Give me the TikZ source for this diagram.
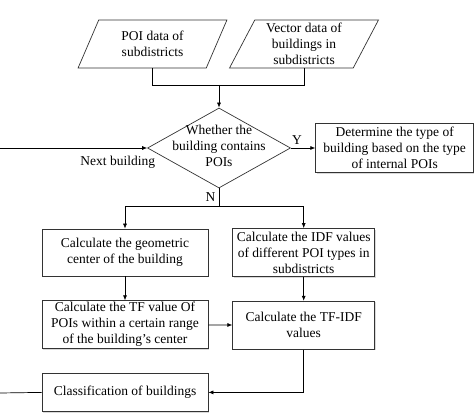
\documentclass[tikz,border=0pt]{standalone}
\usepackage{fontspec}
\setmainfont{Liberation Serif}
\usetikzlibrary{shapes.geometric,arrows.meta,positioning,shadows}
\newcommand{\flowfont}{\fontsize{13.5}{16}\selectfont}
\tikzset{
    process/.style={
        rectangle,
        draw=black!80,
        fill=white,
        align=center,
        inner sep=1pt,
        font=\flowfont,
        drop shadow={opacity=0.3, shadow xshift=1.2pt, shadow yshift=-1.2pt}
    },
    iodata/.style={
        trapezium,
        trapezium left angle=65,
        trapezium right angle=115,
        trapezium stretches=true,
        draw=black!80,
        fill=white,
        minimum width=149pt,
        minimum height=48pt,
        inner sep=0pt,
        align=center,
        font=\flowfont
    },
    decision/.style={
        diamond,
        draw=black!80,
        minimum width=143pt,
        minimum height=80pt,
        inner sep=0pt
    },
    flow/.style={
        ->,
        >={Latex[length=5pt,width=4pt]},
        line width=0.7pt
    }
}

\begin{document}
\begin{tikzpicture}[x=1pt, y=1pt, line width=0.7pt, node distance=24pt]
\useasboundingbox (0,0) rectangle (474,-419);

% input data
\node[iodata] (poi) at (152.5,-44) {POI data of\\subdistricts};
\node[iodata] (vector) at (304,-44) {Vector data of\\buildings in\\subdistricts};

% decision
\node[decision] (contains) at (219,-148) {};
\node[align=center, font=\flowfont, yshift=2pt] (containstext) at (contains.center) {Whether the\\building contains\\POIs};
\node[process, minimum width=158pt, minimum height=49pt, right=24.5pt of contains] (poitype) {Determine the type of\\building based on the type\\of internal POIs};

% N branch
\node[process, minimum width=166pt, minimum height=47pt] (center) at (125,-252.5) {Calculate the geometric\\center of the building};
\node[process, minimum width=142pt, minimum height=48pt, right=of center] (idf) {Calculate the IDF values\\of different POI types in\\subdistricts};
\node[process, minimum width=166pt, minimum height=48pt, below=of center] (tf) {Calculate the TF value Of\\POIs within a certain range\\of the building's center};
\node[process, minimum width=142pt, minimum height=48pt, below=of idf] (tfidf) {Calculate the TF-IDF\\values};
\node[process, minimum width=166pt, minimum height=38pt, below=of tf] (classify) {Classification of buildings};

% helper points
\coordinate (merge) at (219,-85);
\coordinate (split) at (219,-206);
\coordinate (nextin) at (0,-148);
\coordinate (loopout) at (0,-393);

% connectors
\draw (poi.south) |- (merge);
\draw (vector.south) |- (merge);
\draw[flow] (merge) -- (contains.north);
\draw[flow] (nextin) -- (contains.west) node[pos=0.8, below=4pt, font=\flowfont] {Next building};
\draw[flow] (contains.east) -- (poitype.west) node[pos=0.25, above, font=\flowfont] {Y};
\draw (contains.south) -- (split) node[midway, left, font=\flowfont] {N};
\draw[flow] (split) -| (center.north);
\draw[flow] (split) -| (idf.north);
\draw[flow] (center) -- (tf);
\draw[flow] (idf) -- (tfidf);
\draw[flow] (tf) -- (tfidf);
\draw[flow] (tfidf.south) |- (classify.east);
\draw (classify.west) -- (loopout);
\end{tikzpicture}
\end{document}
